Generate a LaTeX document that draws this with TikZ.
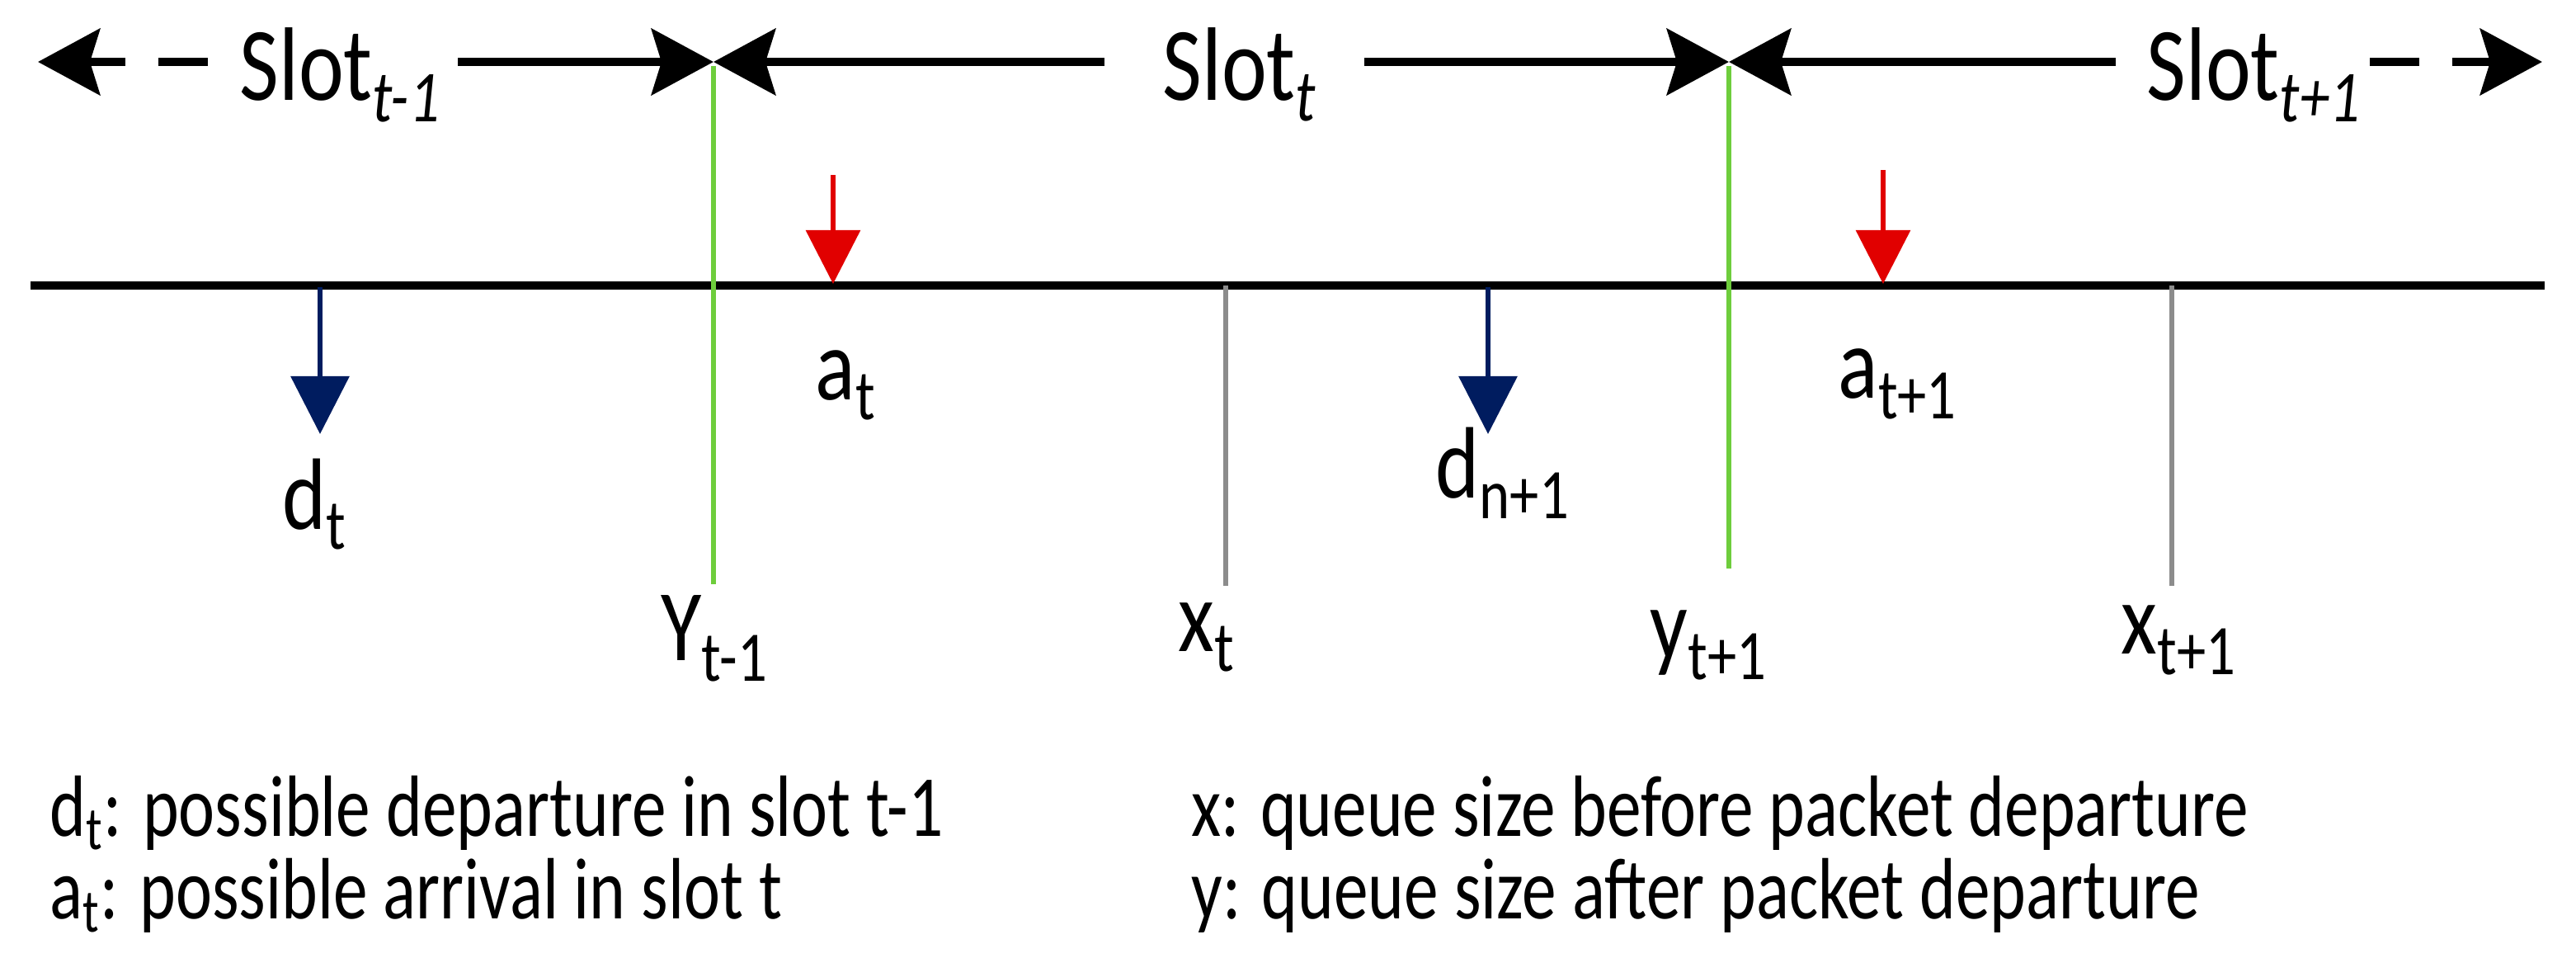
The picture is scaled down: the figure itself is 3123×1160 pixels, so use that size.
\documentclass[tikz,border=0pt]{standalone}
\usepackage{fontspec}
\setmainfont[FakeStretch=0.82]{Carlito}
\newfontfamily\legfont[FakeStretch=0.79]{Carlito}
\usetikzlibrary{arrows.meta}
\definecolor{grn}{RGB}{110,205,60}
\definecolor{rd}{RGB}{225,0,0}
\definecolor{nv}{RGB}{0,28,95}
\definecolor{gr}{RGB}{140,140,140}
\tikzset{
  big/.style={line width=3pt,-{Stealth[length=0.75cm,width=0.8cm,inset=0.12cm]}},
  bigdash/.style={big,dash pattern=on 0.6cm off 0.4cm},
  lab/.style={inner sep=0pt,anchor=base west,font=\fontsize{35}{40}\selectfont},
  slot/.style={inner sep=0pt,anchor=base west,font=\fontsize{36}{40}\selectfont},
  leg/.style={inner sep=0pt,anchor=base west,font=\legfont\fontsize{30}{34}\selectfont},
  redarr/.style={rd,line width=1.8pt,-{Triangle[length=0.65cm,width=0.65cm]}},
  bluarr/.style={nv,line width=1.8pt,-{Triangle[length=0.7cm,width=0.7cm]}},
  grnline/.style={grn,line width=1.8pt},
  gryline/.style={gr,line width=1.8pt}
}
\begin{document}
\begin{tikzpicture}[x=0.01cm,y=-0.01cm]
\useasboundingbox (0,0) rectangle (3123,1160);
% timeline
\coordinate (tl0) at (37,346);
\coordinate (tl1) at (3085,346);
\draw[line width=2.6pt] (tl0) -- (tl1);
% slot labels
\node[slot] (sA) at (290,121) {Slot\textsubscript{\itshape t-1}};
\node[slot] (sB) at (1409,121) {Slot\textsubscript{\itshape t}};
\node[slot] (sC) at (2602,121) {Slot\textsubscript{\itshape t+1}};
\coordinate (L0) at (46,75);
\coordinate (B1) at (865,75);
\coordinate (B2) at (2096,75);
\coordinate (R0) at (3082,75);
\coordinate (sAw) at (252,75); \coordinate (sAe) at (555,75);
\coordinate (sBw) at (1339,75); \coordinate (sBe) at (1654,75);
\coordinate (sCw) at (2565,75); \coordinate (sCe) at (2873,75);
\draw[bigdash] (sAw) -- (L0);
\draw[big] (sAe) -- (B1);
\draw[big] (sBw) -- (B1);
\draw[big] (sBe) -- (B2);
\draw[big] (sCw) -- (B2);
\draw[bigdash] (sCe) -- (R0);
% vertical markers
\coordinate (g1t) at (865,80); \coordinate (g1b) at (865,708);
\coordinate (g2t) at (2096,80); \coordinate (g2b) at (2096,689);
\draw[grnline] (g1t) -- (g1b);
\draw[grnline] (g2t) -- (g2b);
\coordinate (x1t) at (1486,346); \coordinate (x1b) at (1486,710);
\coordinate (x2t) at (2633,346); \coordinate (x2b) at (2633,710);
\draw[gryline] (x1t) -- (x1b);
\draw[gryline] (x2t) -- (x2b);
\coordinate (r1t) at (1010,212); \coordinate (r1b) at (1010,344);
\coordinate (r2t) at (2283,206); \coordinate (r2b) at (2283,344);
\draw[redarr] (r1t) -- (r1b);
\draw[redarr] (r2t) -- (r2b);
\coordinate (b1t) at (388,348); \coordinate (b1b) at (388,526);
\coordinate (b2t) at (1804,348); \coordinate (b2b) at (1804,526);
\draw[bluarr] (b1t) -- (b1b);
\draw[bluarr] (b2t) -- (b2b);
% labels
\node[lab] (at) at (988,484) {a\textsubscript{t}};
\node[lab] (dt) at (342,641) {d\textsubscript{t}};
\node[lab] (Yt) at (801,800) {Y\textsubscript{t-1}};
\node[lab] (dn) at (1740,603) {d\textsubscript{n+1}};
\node[lab] (xt) at (1428,789) {x\textsubscript{t}};
\node[lab] (yt) at (2000,798) {y\textsubscript{t+1}};
\node[lab] (at1) at (2228,482) {a\textsubscript{t+1}};
\node[lab] (xt1) at (2571,792) {x\textsubscript{t+1}};
% legend
\node[leg] (l1) at (60,1013) {d\textsubscript{t}: possible departure in slot t-1};
\node[leg] (l2) at (60,1113) {a\textsubscript{t}: possible arrival in slot t};
\node[leg] (l3) at (1444,1013) {x: queue size before packet departure};
\node[leg] (l4) at (1444,1113) {y: queue size after packet departure};
\end{tikzpicture}
\end{document}
